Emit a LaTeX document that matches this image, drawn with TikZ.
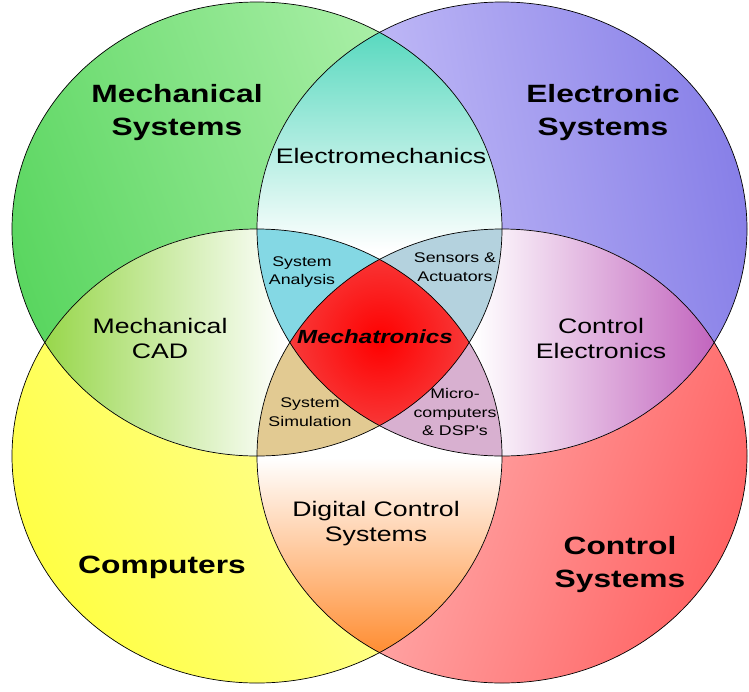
\documentclass[tikz,border=0pt]{standalone}
\usepackage{fontspec}
\usepackage{tikz}
\newfontfamily\vennfont[FakeStretch=1.27]{Liberation Sans}
\definecolor{mechdark}{RGB}{90,214,96}
\definecolor{mechlight}{RGB}{180,242,176}
\definecolor{elecdark}{RGB}{136,128,232}
\definecolor{eleclight}{RGB}{214,208,252}
\definecolor{compdark}{RGB}{255,255,70}
\definecolor{complight}{RGB}{255,255,186}
\definecolor{ctrldark}{RGB}{255,100,100}
\definecolor{ctrllight}{RGB}{255,202,202}
\definecolor{emechcol}{RGB}{86,216,190}
\definecolor{mcadcol}{RGB}{150,214,72}
\definecolor{celeccol}{RGB}{192,96,188}
\definecolor{dctrlcol}{RGB}{255,140,48}
\definecolor{anacol}{RGB}{132,216,228}
\definecolor{senscol}{RGB}{180,210,222}
\definecolor{simcol}{RGB}{226,202,146}
\definecolor{microcol}{RGB}{216,176,208}
\definecolor{corein}{RGB}{255,0,0}
\definecolor{coreout}{RGB}{240,112,112}
\tikzset{ring/.style={x radius=245pt,y radius=227pt},outline/.style={draw=black,line width=0.7pt},bigtxt/.style={font=\vennfont\fontsize{25}{33}\selectfont\bfseries},midtxt/.style={font=\vennfont\fontsize{21}{25}\selectfont},smalltxt/.style={font=\vennfont\fontsize{14}{18.5}\selectfont},coretxt/.style={font=\vennfont\fontsize{19}{23}\selectfont\bfseries\itshape}}

\begin{document}
\begin{tikzpicture}[x=1pt,y=-1pt,align=center,inner sep=0pt,font=\vennfont]
\useasboundingbox (0,0) rectangle (749,691);
\coordinate (mech) at (257,229);
\coordinate (elec) at (502,229);
\coordinate (comp) at (257,456);
\coordinate (ctrl) at (502,456);

%single sets
\shade[top color=mechdark,bottom color=mechlight,shading angle=110] (mech) ellipse [ring];
\shade[top color=elecdark,bottom color=eleclight,shading angle=-80] (elec) ellipse [ring];
\shade[top color=compdark,bottom color=complight,shading angle=120] (comp) ellipse [ring];
\shade[top color=ctrldark,bottom color=ctrllight,shading angle=-110] (ctrl) ellipse [ring];

%electromechanics
\begin{scope}
\clip (mech) ellipse [ring];
\clip (elec) ellipse [ring];
\fill[white] (elec) ellipse [ring];
\shade[top color=emechcol,bottom color=white] (250,28) rectangle (510,250);
\end{scope}

%mechanical cad
\begin{scope}
\clip (mech) ellipse [ring];
\clip (comp) ellipse [ring];
\fill[white] (comp) ellipse [ring];
\shade[left color=mcadcol,right color=white] (40,220) rectangle (285,465);
\end{scope}

%control electronics
\begin{scope}
\clip (elec) ellipse [ring];
\clip (ctrl) ellipse [ring];
\fill[white] (ctrl) ellipse [ring];
\shade[left color=white,right color=celeccol] (475,220) rectangle (722,465);
\end{scope}

%digital control
\begin{scope}
\clip (comp) ellipse [ring];
\clip (ctrl) ellipse [ring];
\fill[white] (ctrl) ellipse [ring];
\shade[top color=white,bottom color=dctrlcol] (250,458) rectangle (510,655);
\end{scope}

%triples
\begin{scope}
\clip (mech) ellipse [ring];
\clip (elec) ellipse [ring];
\fill[anacol] (comp) ellipse [ring];
\fill[senscol] (ctrl) ellipse [ring];
\end{scope}
\begin{scope}
\clip (comp) ellipse [ring];
\clip (ctrl) ellipse [ring];
\fill[simcol] (mech) ellipse [ring];
\fill[microcol] (elec) ellipse [ring];
\end{scope}

%mechatronics
\begin{scope}
\clip (mech) ellipse [ring];
\clip (elec) ellipse [ring];
\clip (comp) ellipse [ring];
\clip (ctrl) ellipse [ring];
\shade[inner color=corein,outer color=coreout] (380,340) circle [radius=175pt];
\end{scope}

%outlines
\draw[outline] (mech) ellipse [ring];
\draw[outline] (elec) ellipse [ring];
\draw[outline] (comp) ellipse [ring];
\draw[outline] (ctrl) ellipse [ring];

%labels
\node (mechsys) at (177,113)[bigtxt]{Mechanical\\Systems};
\node (elecsys) at (603,113)[bigtxt]{Electronic\\Systems};
\node (compsys) at (162,567)[bigtxt]{Computers};
\node (ctrlsys) at (620,565)[bigtxt]{Control\\Systems};
\node (emech) at (381,156)[midtxt]{Electromechanics};
\node (mcad) at (160,338)[midtxt]{Mechanical\\CAD};
\node (celec) at (601,338)[midtxt]{Control\\Electronics};
\node (dctrl) at (376,524)[midtxt]{Digital Control\\Systems};
\node (sysana) at (302,272)[smalltxt]{System\\Analysis};
\node (sensact) at (455,267)[smalltxt]{Sensors \&\\Actuators};
\node (syssim) at (310,412)[smalltxt]{System\\Simulation};
\node (micro) at (455,412)[smalltxt]{Micro-\\computers\\\& DSP's};
\node (mtron) at (375,337)[coretxt]{Mechatronics};
\end{tikzpicture}
\end{document}
